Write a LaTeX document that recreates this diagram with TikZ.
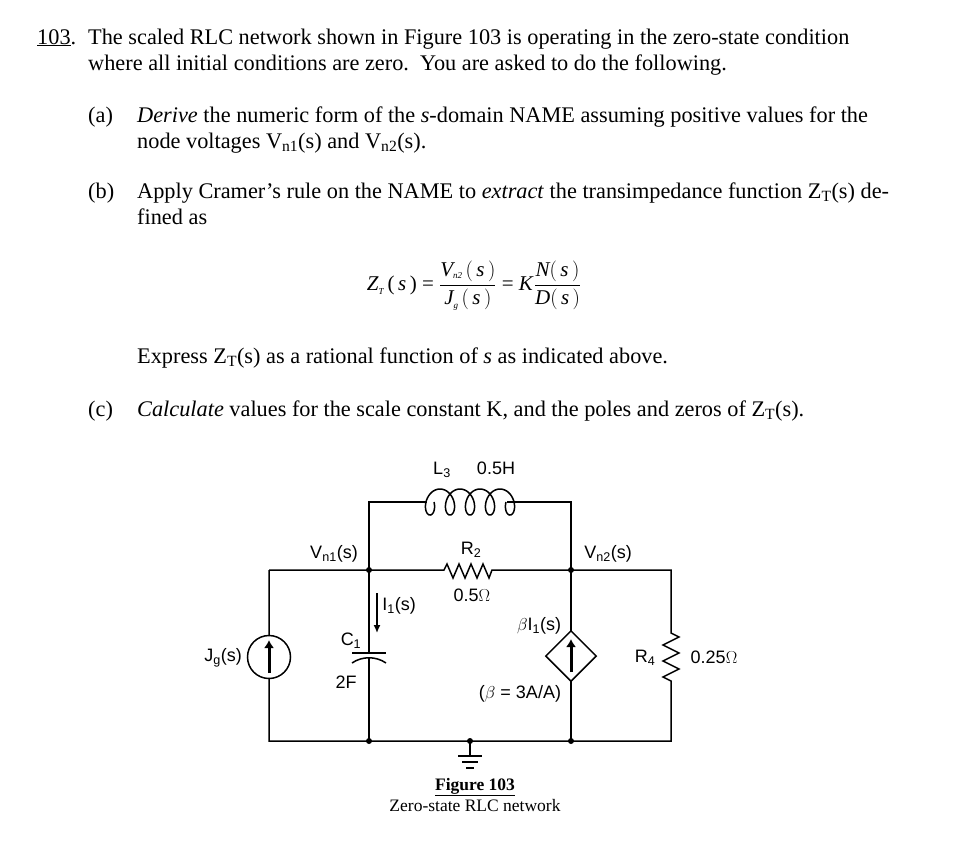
\documentclass[tikz,border=0pt]{standalone}
\usepackage{fontspec}
\setmainfont{Liberation Serif}
\newfontfamily\arial{Liberation Sans}
\usetikzlibrary{arrows.meta,shapes.geometric}
\tikzset{
 txt/.style={anchor=base west,inner sep=0pt,font=\fontsize{22.3}{26}\selectfont},
 lab/.style={inner sep=0pt,font=\arial\fontsize{18}{20}\selectfont},
 captxt/.style={anchor=base,inner sep=0pt,font=\fontsize{17.5}{20}\selectfont},
 wire/.style={line width=1.5pt},
 dot/.style={circle,fill,inner sep=0pt,minimum size=6pt},
}
\newcommand{\sub}[1]{\textsubscript{#1}}
\begin{document}
\begin{tikzpicture}[x=1pt,y=-1pt]
\useasboundingbox (0,0) rectangle (977,852);
\node[txt] (t0) at (37,44) {\underline{103}.};
\node[txt] (t1) at (88,44) {The scaled RLC network shown in Figure 103 is operating in the zero-state condition};
\node[txt] (t2) at (88,70) {where all initial conditions are zero.\ \ You are asked to do the following.};
\node[txt] (a) at (88,122) {(a)};
\node[txt] (a1) at (137,122) {\textit{Derive} the numeric form of the \textit{s}-domain NAME assuming positive values for the};
\node[txt] (a2) at (137,148) {node voltages V\sub{n1}(s) and V\sub{n2}(s).};
\node[txt] (b) at (88,198) {(b)};
\node[txt] (b1) at (137,198) {Apply Cramer’s rule on the NAME to \textit{extract} the transimpedance function Z\sub{T}(s) de-};
\node[txt] (b2) at (137,224) {fined as};
\node[anchor=center,inner sep=0pt,font=\fontsize{21}{24}\selectfont] (eq) at (474,286)
 {\textit{Z}\raisebox{-4pt}{\small\textit{T}}\,(\,\textit{s}\,) = $\displaystyle\frac{\textit{V}\raisebox{-2pt}{\small\textit{n2}}\,(\,\textit{s}\,)}{\textit{J}\raisebox{-4pt}{\small\textit{g}}\,(\,\textit{s}\,)}$ = \textit{K}$\displaystyle\frac{\textit{N}(\,\textit{s}\,)}{\textit{D}(\,\textit{s}\,)}$};
\node[txt] (e) at (137,363) {Express Z\sub{T}(s) as a rational function of \textit{s} as indicated above.};
\node[txt] (c) at (88,416) {(c)};
\node[txt] (c1) at (137,416) {\textit{Calculate} values for the scale constant K, and the poles and zeros of Z\sub{T}(s).};
% circuit
\coordinate (TL) at (369,502); \coordinate (TR) at (571,502);
\coordinate (N1) at (369,570); \coordinate (N2) at (571,570);
\coordinate (LL) at (269,570); \coordinate (RR) at (671,570);
\coordinate (B1) at (369,741); \coordinate (B2) at (571,741);
\coordinate (BL) at (269,741); \coordinate (BR) at (671,741);
\coordinate (G) at (470,741);
\draw[wire] (N1) -- (TL) -- (427,502);
\draw[wire] plot[domain=-90:1530,samples=240,smooth] ({425 + (\x+90)/18 - 9*sin(\x)},{502 + 13*cos(\x)});
\draw[wire] (507,502) -- (TR) -- (N2);
\draw[wire] (LL) -- (N1) -- (444,570) -- (447,564) -- (453,578) -- (459,564) -- (465,578) -- (471,564) -- (477,578) -- (483,564) -- (489,578) -- (492,570) -- (N2) -- (RR) -- (671,633)
 -- (679,637) -- (663,645) -- (679,653) -- (663,661) -- (679,669) -- (663,677) -- (671,681) -- (BR) -- (BL) -- (LL);
\draw[wire] (N1) -- (369,653); \draw[wire] (369,658) -- (B1);
\draw[wire] (352,653) -- (386,653);
\draw[wire] (352,663) .. controls (362,656) and (376,656) .. (386,663);
\draw[wire] (N2) -- (B2);
\node[draw,circle,wire,fill=white,minimum size=43pt,inner sep=0pt] (J) at (269,657) {};
\draw[line width=3pt,-{Latex[length=8pt,width=10pt]}] (269,673) -- (269,640);
\node[draw,diamond,wire,fill=white,minimum size=51pt,inner sep=0pt] (D) at (571,656) {};
\draw[line width=3pt,-{Latex[length=8pt,width=10pt]}] (571,672) -- (571,639);
\draw[wire,-{Latex[length=8pt,width=7pt]}] (377,593) -- (377,633);
\draw[wire] (G) -- (470,756);
\draw[wire] (458,756) -- (482,756); \draw[wire] (462,762) -- (478,762); \draw[wire] (466,768) -- (474,768);
\foreach \p in {N1,N2,B1,B2,G} \node[dot] at (\p) {};
% labels
\node[lab] (lL) at (442,470) {L\textsubscript{3}};
\node[lab] (lLv) at (496,468) {0.5H};
\node[lab] (lV1) at (334,554) {V\textsubscript{n1}(s)};
\node[lab] (lR2) at (471,550) {R\textsubscript{2}};
\node[lab] (lR2v) at (472,595) {0.5$\Omega$};
\node[lab] (lV2) at (608,554) {V\textsubscript{n2}(s)};
\node[lab] (lI) at (399,606) {I\textsubscript{1}(s)};
\node[lab] (lC) at (351,641) {C\textsubscript{1}};
\node[lab] (lCv) at (346,682) {2F};
\node[lab] (lb) at (539,626) {$\beta$I\textsubscript{1}(s)};
\node[lab] (lbv) at (520,694) {($\beta$ = 3A/A)};
\node[lab] (lJ) at (223,658) {J\textsubscript{g}(s)};
\node[lab] (lR4) at (645,658) {R\textsubscript{4}};
\node[lab] (lR4v) at (714,657) {0.25$\Omega$};
\node[captxt] (f1) at (475,790) {\textbf{\underline{Figure 103}}};
\node[captxt] (f2) at (475,811) {Zero-state RLC network};
\end{tikzpicture}
\end{document}
